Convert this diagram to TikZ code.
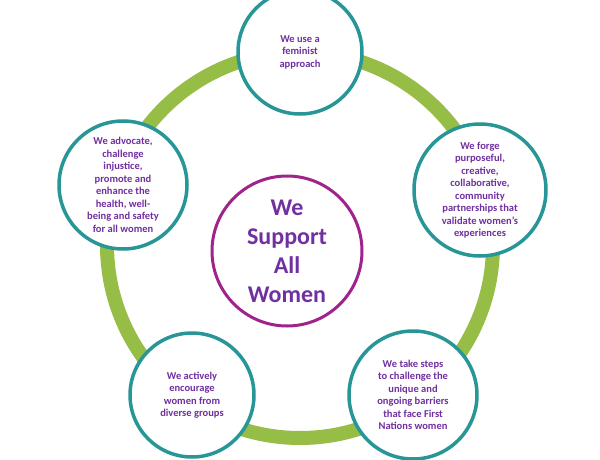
\documentclass[tikz,border=0pt]{standalone}
\usepackage{fontspec}
\setmainfont{Carlito}
\definecolor{ringg}{RGB}{150,190,70}
\definecolor{tealc}{RGB}{40,150,150}
\definecolor{purp}{RGB}{112,48,160}
\definecolor{magp}{RGB}{160,35,140}
\tikzset{
 outer/.style={circle,draw=tealc,line width=3.5pt,fill=white,minimum size=124pt,inner sep=0pt,align=center,text=purp,font=\bfseries\fontsize{10.5}{12.5}\selectfont},
 center/.style={circle,draw=magp,line width=3pt,fill=white,minimum size=150pt,inner sep=0pt,align=center,text=purp,font=\bfseries\fontsize{24}{29}\selectfont}
}
\begin{document}
\begin{tikzpicture}[x=1pt,y=-1pt]
\useasboundingbox (0,0) rectangle (600,460);
\coordinate (ringc) at (300,245);
\draw[ringg,line width=14pt] (ringc) circle[radius=193];
\node[center] (c) at (287,251) {We\\Support\\All\\Women};
\node[outer] (t) at (300,52) {We use a\\feminist\\approach};
\node[outer,minimum size=132pt] (r) at (480,190) {We forge\\purposeful,\\creative,\\collaborative,\\community\\partnerships that\\validate women's\\experiences};
\node[outer,minimum size=128pt] (br) at (413,395) {We take steps\\to challenge the\\unique and\\ongoing barriers\\that face First\\Nations women};
\node[outer] (bl) at (192,395) {We actively\\encourage\\women from\\diverse groups};
\node[outer,minimum size=128pt] (l) at (123,185) {We advocate,\\challenge\\injustice,\\promote and\\enhance the\\health, well-\\being and safety\\for all women};
\end{tikzpicture}
\end{document}
